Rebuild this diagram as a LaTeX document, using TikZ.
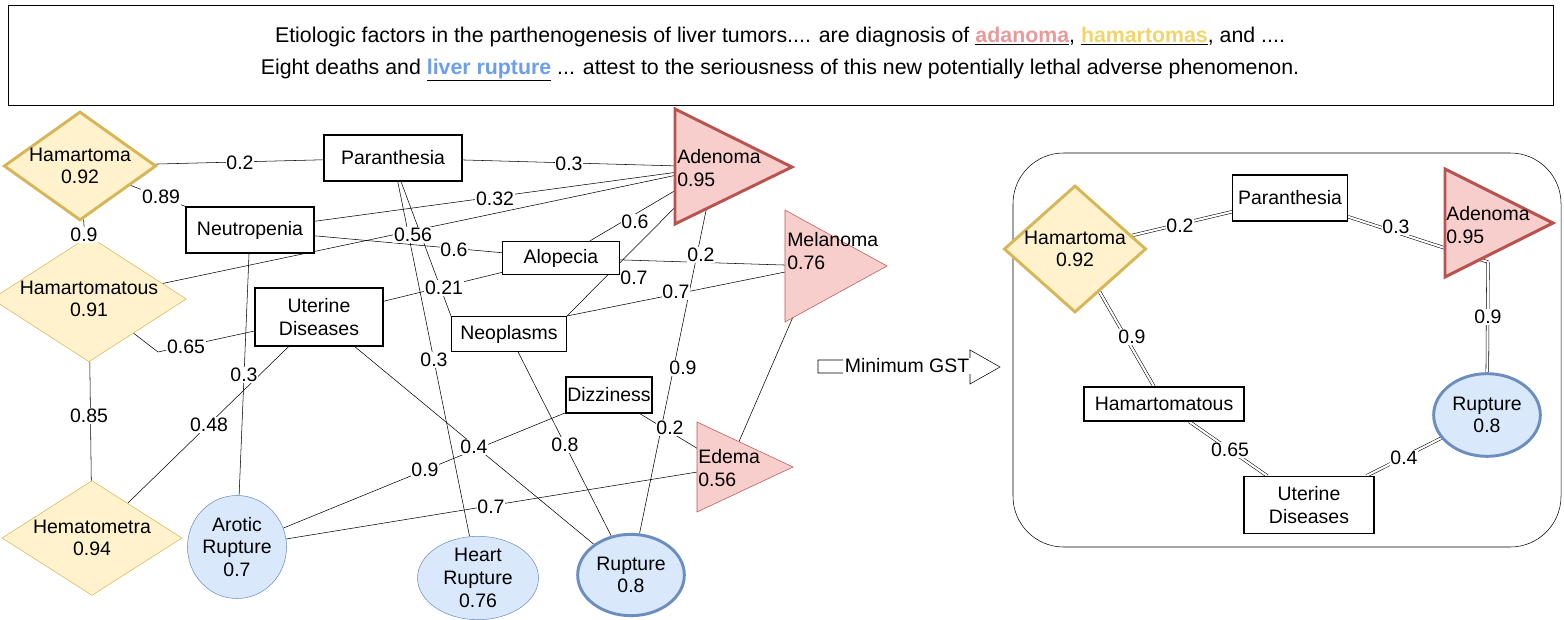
\documentclass[tikz,border=0pt]{standalone}
\usepackage{fontspec}
\setmainfont{Liberation Sans}
\usetikzlibrary{shapes.geometric}
\pgfdeclarelayer{bg}
\pgfsetlayers{bg,main}
\definecolor{yf}{HTML}{FFF2CC}\definecolor{ys}{HTML}{D6B656}
\definecolor{rf}{HTML}{F8CECC}\definecolor{rs}{HTML}{B85450}
\definecolor{bf}{HTML}{DAE8FC}\definecolor{bs}{HTML}{6C8EBF}
\definecolor{tpink}{HTML}{EA9999}\definecolor{tyel}{HTML}{F1D56B}\definecolor{tblue}{HTML}{6D9EEB}
\newcommand{\ulc}[2]{\textbf{\rlap{\textcolor{#1}{#2}}\underline{\phantom{#2}}}}
\begin{document}
\begin{tikzpicture}[x=0.75pt,y=-0.75pt,
  every node/.style={font=\fontsize{14.6}{17}\selectfont},
  box/.style={draw,thick,fill=white,inner sep=0pt,align=center},
  dia/.style={diamond,draw=ys,fill=yf,inner sep=0pt,align=center},
  ell/.style={ellipse,draw=bs,fill=bf,inner sep=0pt,align=center},
  tri/.style={fill=rf,draw=rs},
  lab/.style={fill=white,inner sep=0.5pt},
  e/.style={draw,thin},
  dbl/.style={draw,double,double distance=1.6pt,thin}]
\useasboundingbox (0,0) rectangle (1564,620);
% top text
\draw (8,5) rectangle (1553,105);
\node[align=center,font=\fontsize{16}{24}\selectfont] (txt) at (780,54) {Etiologic factors in the parthenogenesis of liver tumors.... are diagnosis of \ulc{tpink}{adanoma}, \ulc{tyel}{hamartomas}, and ....\\
Eight deaths and \ulc{tblue}{liver rupture} ... attest to the seriousness of this new potentially lethal adverse phenomenon.};
% ---------- left graph nodes
\node[dia,line width=2.2pt,minimum width=112pt,aspect=1.4] (hm) at (80,166) {Hamartoma\\0.92};
\node[dia,minimum width=122pt,aspect=1.55] (hs) at (89,299) {Hamartomatous\\0.91};
\node[dia,minimum width=135pt,aspect=1.5] (ht) at (92,538) {Hematometra\\0.94};
\node[box,minimum width=103.5pt,minimum height=34.5pt] (pa) at (393,158) {Paranthesia};
\node[box,minimum width=96pt,minimum height=34.5pt] (ne) at (250,230) {Neutropenia};
\node[box,minimum width=87.75pt,minimum height=24.75pt] (al) at (561,258) {Alopecia};
\node[box,minimum width=96pt,minimum height=43.5pt] (ut) at (319,317) {Uterine\\Diseases};
\node[box,minimum width=86.25pt,minimum height=26.25pt] (nb) at (509,334) {Neoplasms};
\node[box,minimum width=64.5pt,minimum height=27pt] (dz) at (609,395) {Dizziness};
\node[ell,minimum width=74.25pt,minimum height=77.25pt] (ar) at (237,547) {Arotic\\Rupture\\0.7};
\node[ell,minimum width=90.75pt,minimum height=60pt] (hr) at (478,578) {Heart\\Rupture\\0.76};
\node[ell,line width=2.2pt,minimum width=80pt,minimum height=61pt] (ru) at (631,575) {Rupture\\0.8};
\coordinate (ad) at (715,167);
\coordinate (me) at (815,266);
\coordinate (ed) at (728,467);
\coordinate (k65) at (158,352);
\begin{pgfonlayer}{bg}
\draw[e] (hm) -- (pa); \draw[e] (pa) -- (ad);
\draw[e] (hm) -- (ne.north west);
\draw[e] (ne) -- (ad); \draw[e] (hs) -- (ad);
\draw[e] (ne) -- (al);
\draw[e] (pa.south) ++(8,0) -- (nb.north west) ;
\draw[e] (al) -- (ad); \draw[e] (al) -- (me);
\draw[e] (nb.north east) -- (ad); \draw[e] (nb.north east) -- (me);
\draw[e] (ut) -- (al);
\draw[e] (hs) -- (k65) -- (ut);
\draw[e] (ne) -- (ar);
\draw[e] (ut) -- (ht);
\draw[e] (pa) -- (hr);
\draw[e] (ut) -- (ru);
\draw[e] (dz) -- (ar); \draw[e] (dz) -- (ed);
\draw[e] (nb) -- (ru); \draw[e] (ad) -- (ru);
\draw[e] (ar) -- (ed); \draw[e] (me) -- (ed);
\draw[e] (hm) -- (hs); \draw[e] (hs) -- (ht);
\end{pgfonlayer}
% triangles
\draw[tri,line width=2.2pt] (675,109) -- (792,167) -- (675,224) -- cycle;
\draw[tri] (785,210) -- (887,266) -- (785,322) -- cycle;
\draw[tri] (697,422) -- (793,467) -- (697,512) -- cycle;
\node[anchor=west,align=left,inner sep=0pt] (adt) at (677,168) {Adenoma\\0.95};
\node[anchor=west,align=left,inner sep=0pt] (met) at (787,251) {Melanoma\\0.76};
\node[anchor=west,align=left,inner sep=0pt] (edt) at (698,468) {Edema\\0.56};
% labels
\foreach \p/\t in {{240,163}/0.2,{569,164}/0.3,{161,197}/0.89,{495,199}/0.32,{413,235}/0.56,{454,250}/0.6,{635,222}/0.6,{701,255}/0.2,{634,278}/0.7,{676,292}/0.7,{444,288}/0.21,{186,347}/0.65,{244,375}/0.3,{209,425}/0.48,{434,360}/0.3,{474,447}/0.4,{425,470}/0.9,{670,428}/0.2,{565,445}/0.8,{683,368}/0.9,{491,507}/0.7,{84,235}/0.9,{89,416}/0.85}
  \node[lab] at (\p) {\t};
% arrow
\draw (818,360) -- (970,360) -- (970,350) -- (1000,367) -- (970,384) -- (970,373) -- (818,373) -- cycle;
\node[fill=white,inner sep=1pt] (gst) at (907,366) {Minimum GST};
% ---------- right panel
\draw[rounded corners=38] (1013,153) rectangle (1561,547);
\node[dia,line width=2.2pt,minimum width=96pt,aspect=1.12] (hm2) at (1075,249) {Hamartoma\\0.92};
\node[box,minimum width=86.25pt,minimum height=34.5pt] (pa2) at (1290,198) {Paranthesia};
\node[box,minimum width=120pt,minimum height=25.5pt] (hs2) at (1164,404) {Hamartomatous};
\node[box,minimum width=97.5pt,minimum height=42.75pt] (ut2) at (1309,505) {Uterine\\Diseases};
\node[ell,line width=2.2pt,minimum width=80pt,minimum height=62pt] (ru2) at (1487,415) {Rupture\\0.8};
\coordinate (ad2) at (1488,262);
\begin{pgfonlayer}{bg}
\draw[dbl] (hm2) -- (pa2); \draw[dbl] (pa2) -- (ad2);
\draw[dbl] (ad2) -- (ru2); \draw[dbl] (hm2) -- (hs2);
\draw[dbl] (hs2) -- (ut2); \draw[dbl] (ut2) -- (ru2);
\end{pgfonlayer}
\draw[tri,line width=2.2pt] (1445,169) -- (1553,223) -- (1445,277) -- cycle;
\node[anchor=west,align=left,inner sep=0pt] (adt2) at (1446,225) {Adenoma\\0.95};
\foreach \p/\t in {{1180,226}/0.2,{1396,227}/0.3,{1488,317}/0.9,{1132,337}/0.9,{1230,450}/0.65,{1404,458}/0.4}
  \node[lab] at (\p) {\t};
\end{tikzpicture}
\end{document}
